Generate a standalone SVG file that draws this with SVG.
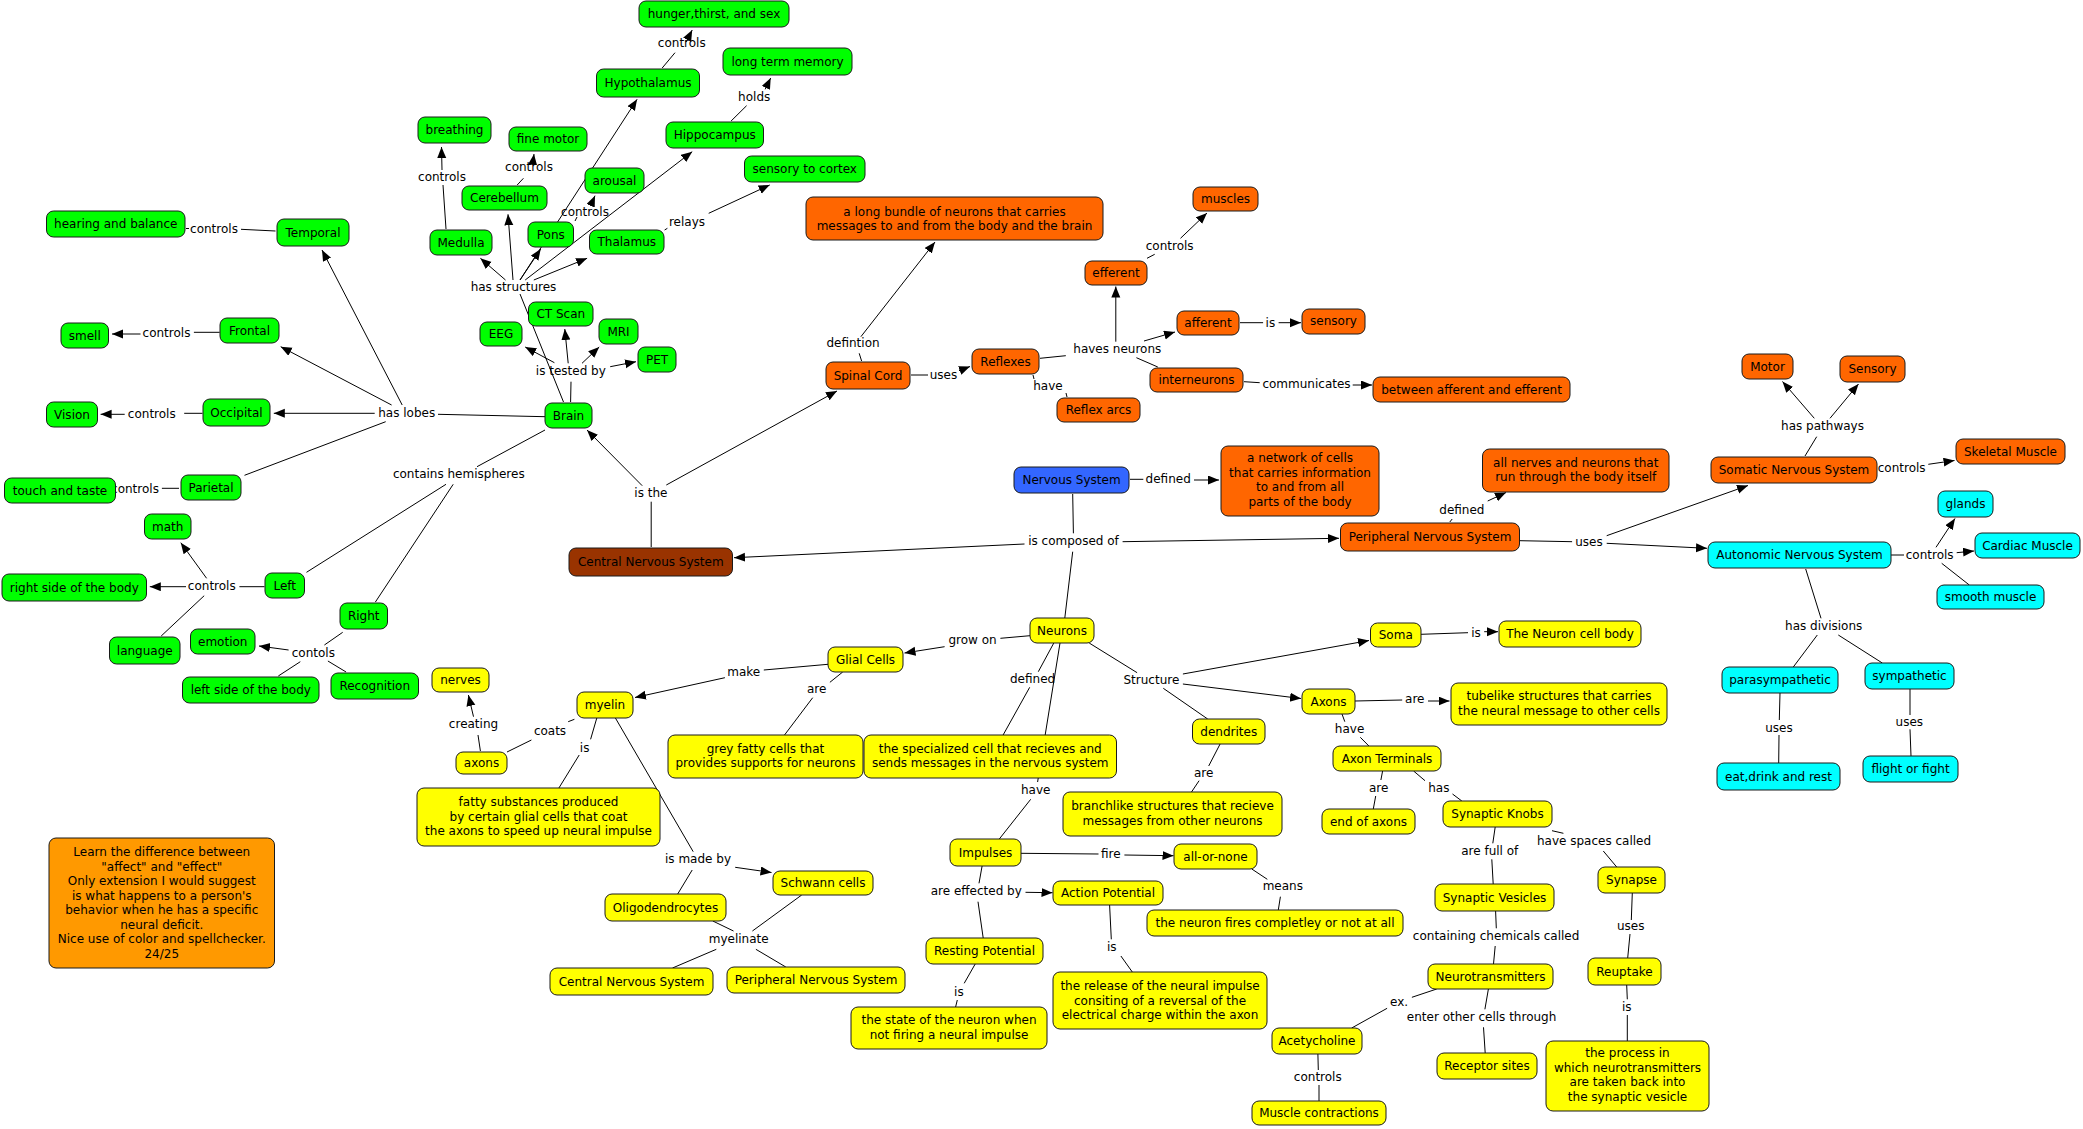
<svg xmlns="http://www.w3.org/2000/svg" width="2083" height="1129" viewBox="0 0 2083 1129">
<defs>
<marker id="ah" markerUnits="userSpaceOnUse" markerWidth="12" markerHeight="10" refX="11" refY="4.5" orient="auto"><path d="M0,0 L11,4.5 L0,9 z" fill="#000"/></marker>
<style>
text{font-family:"DejaVu Sans","Verdana",sans-serif;font-size:12px;fill:#000;text-anchor:middle}
rect{stroke:#1a1a1a;stroke-width:1;rx:7;ry:7}
.g{fill:#00ff00}.o{fill:#ff6600}.y{fill:#ffff00}.c{fill:#00ffff}.b{fill:#3366ff}.br{fill:#993300}.cm{fill:#ff9900}
#conn line{stroke:#000;stroke-width:1}
#conn line.a{marker-end:url(#ah)}
</style>
</defs>
<rect x="0" y="0" width="2083" height="1129" fill="#fff" style="stroke:none"/>
<g id="conn">
<line x1="275.5" y1="231" x2="241" y2="229.3"/><line x1="189" y1="228.5" x2="186" y2="228.5"/>
<line x1="219.7" y1="332.3" x2="193.9" y2="332.3"/><line class="a" x1="140.5" y1="334" x2="112" y2="334"/>
<line x1="545" y1="416.7" x2="438" y2="414.3"/>
<line class="a" x1="374.7" y1="413.3" x2="273.8" y2="413.3"/>
<line class="a" x1="391.6" y1="405" x2="280.7" y2="346.7"/>
<line class="a" x1="402.2" y1="405" x2="322" y2="250"/>
<line x1="385.7" y1="421.7" x2="244.5" y2="475.3"/>
<line x1="202.5" y1="413.3" x2="184.2" y2="413.3"/><line class="a" x1="124.7" y1="414.3" x2="100.6" y2="414.3"/>
<line x1="179" y1="488.3" x2="161.9" y2="488.3"/>
<line x1="545" y1="430" x2="477" y2="466.7"/>
<line x1="446" y1="484.3" x2="306.5" y2="572.3"/>
<line x1="453.2" y1="484.3" x2="375.4" y2="602"/>
<line x1="264.5" y1="586.7" x2="239.4" y2="586.7"/>
<line class="a" x1="186" y1="586.7" x2="149.8" y2="586.7"/>
<line class="a" x1="206.6" y1="578.3" x2="180.8" y2="542.7"/>
<line x1="204.2" y1="595.7" x2="161.2" y2="636"/>
<line x1="342.7" y1="632.3" x2="324.4" y2="645"/>
<line class="a" x1="288.6" y1="650" x2="259" y2="646"/>
<line x1="300.3" y1="661.7" x2="278.3" y2="676"/>
<line x1="327.9" y1="661" x2="346.1" y2="672"/>
<line x1="480.4" y1="751" x2="478" y2="735"/>
<line class="a" x1="473.5" y1="716.7" x2="468.4" y2="695"/>
<line x1="574.4" y1="719.3" x2="568.2" y2="721.7"/>
<line x1="531.4" y1="740" x2="507" y2="752"/>
<line x1="446" y1="229" x2="443" y2="185"/>
<line class="a" x1="442" y1="170" x2="441.5" y2="147"/>
<line x1="517.2" y1="185" x2="523.4" y2="178.3"/>
<line class="a" x1="533" y1="162" x2="534" y2="154"/>
<line class="a" x1="505.5" y1="280" x2="480.4" y2="258.3"/>
<line class="a" x1="513" y1="280" x2="508" y2="214.3"/>
<line class="a" x1="520" y1="280" x2="540.7" y2="249"/>
<line class="a" x1="520" y1="280" x2="637.1" y2="99.3"/>
<line class="a" x1="525.2" y1="280" x2="692.2" y2="151.7"/>
<line class="a" x1="533.8" y1="280" x2="587.1" y2="258.3"/>
<line x1="520" y1="294" x2="563.5" y2="402"/>
<line x1="662.2" y1="68" x2="675" y2="52.7"/>
<line class="a" x1="686" y1="42" x2="692.2" y2="30"/>
<line x1="731.1" y1="121" x2="746.6" y2="105.7"/>
<line class="a" x1="765.2" y1="89.3" x2="770.7" y2="78"/>
<line x1="575" y1="221" x2="577" y2="217"/>
<line class="a" x1="590.6" y1="205.7" x2="595" y2="195.7"/>
<line x1="664.6" y1="230" x2="667.4" y2="228.3"/>
<line class="a" x1="708.7" y1="213.3" x2="769.7" y2="185"/>
<line x1="570.6" y1="402" x2="571" y2="381.7"/>
<line class="a" x1="554.4" y1="362.7" x2="525.2" y2="347"/>
<line class="a" x1="568.2" y1="363.3" x2="564.8" y2="329"/>
<line class="a" x1="582" y1="363.3" x2="599.2" y2="347"/>
<line class="a" x1="610.2" y1="366.7" x2="636" y2="361.7"/>
<line x1="861.6" y1="361" x2="859.2" y2="353.3"/>
<line class="a" x1="860.9" y1="336.7" x2="935" y2="242"/>
<line x1="911" y1="375" x2="928" y2="375"/>
<line class="a" x1="959" y1="370.7" x2="970" y2="366.5"/>
<line x1="1033" y1="375" x2="1034" y2="379"/>
<line x1="1066" y1="393" x2="1067" y2="397"/>
<line x1="1040" y1="358.3" x2="1065.8" y2="355.7"/>
<line class="a" x1="1115.8" y1="341.7" x2="1115.8" y2="286.5"/>
<line class="a" x1="1144" y1="341" x2="1175" y2="332"/>
<line x1="1136.4" y1="357.7" x2="1157.8" y2="367"/>
<line x1="1147" y1="258.3" x2="1154.7" y2="254.3"/>
<line class="a" x1="1180.5" y1="238.3" x2="1207" y2="213"/>
<line x1="1240" y1="322.7" x2="1263.1" y2="322.7"/>
<line class="a" x1="1278.6" y1="322.7" x2="1301" y2="322.7"/>
<line x1="1244" y1="381.7" x2="1259.7" y2="382.7"/>
<line class="a" x1="1352.7" y1="385" x2="1372" y2="385"/>
<line x1="651.2" y1="547" x2="651.2" y2="501.7"/>
<line class="a" x1="642.2" y1="485.7" x2="587" y2="430"/>
<line class="a" x1="666.3" y1="485" x2="837" y2="391"/>
<line x1="1130" y1="479.3" x2="1143.3" y2="479.3"/>
<line class="a" x1="1194" y1="480" x2="1219" y2="480"/>
<line x1="1072.7" y1="494" x2="1073.4" y2="533.3"/>
<line class="a" x1="1024.5" y1="544" x2="734" y2="557.7"/>
<line class="a" x1="1122.6" y1="541.7" x2="1339" y2="538.3"/>
<line x1="1072.7" y1="551.7" x2="1064.8" y2="618"/>
<line x1="1449.8" y1="522" x2="1452.2" y2="519"/>
<line class="a" x1="1487.7" y1="501" x2="1506" y2="492.5"/>
<line x1="1520" y1="540.7" x2="1572.1" y2="541.7"/>
<line class="a" x1="1606.7" y1="535.7" x2="1748" y2="485.5"/>
<line class="a" x1="1606.7" y1="543.3" x2="1707" y2="548.3"/>
<line x1="1805" y1="456" x2="1816.7" y2="436.7"/>
<line class="a" x1="1814.3" y1="418.3" x2="1782.5" y2="381.5"/>
<line class="a" x1="1830" y1="418.3" x2="1858.5" y2="384"/>
<line class="a" x1="1928.3" y1="464.3" x2="1954.5" y2="460.5"/>
<line x1="1891" y1="555" x2="1904" y2="555"/>
<line class="a" x1="1956.7" y1="552.7" x2="1974" y2="551"/>
<line class="a" x1="1936" y1="547.3" x2="1955" y2="518.5"/>
<line x1="1941.7" y1="563.3" x2="1969.3" y2="585"/>
<line x1="1805.7" y1="569" x2="1821" y2="618.3"/>
<line x1="1817.3" y1="635" x2="1793.3" y2="667"/>
<line x1="1838.3" y1="635" x2="1882.3" y2="663"/>
<line x1="1780" y1="693" x2="1779.3" y2="720"/>
<line x1="1779" y1="735" x2="1778.7" y2="763"/>
<line x1="1910" y1="689" x2="1910" y2="715"/>
<line x1="1910" y1="729.3" x2="1911" y2="756"/>
<line x1="1030" y1="635.7" x2="1000.4" y2="638.3"/>
<line class="a" x1="944.6" y1="646.7" x2="904.5" y2="653"/>
<line x1="828" y1="664.3" x2="763.8" y2="670"/>
<line class="a" x1="724.9" y1="677.7" x2="635" y2="697.5"/>
<line x1="842.7" y1="672" x2="829.9" y2="682.3"/>
<line x1="812.7" y1="697.7" x2="784.5" y2="735"/>
<line x1="596.8" y1="718" x2="590.6" y2="739.3"/>
<line x1="579.2" y1="755" x2="558.9" y2="788"/>
<line x1="615.4" y1="718" x2="693.2" y2="851.7"/>
<line class="a" x1="735.2" y1="867.3" x2="771.5" y2="872.5"/>
<line x1="692.2" y1="870" x2="677.7" y2="894"/>
<line x1="712.8" y1="921" x2="733.5" y2="931"/>
<line x1="801.7" y1="895" x2="752.4" y2="931"/>
<line x1="716.3" y1="949.3" x2="672.5" y2="968"/>
<line x1="755.9" y1="949.3" x2="785.8" y2="967"/>
<line x1="1053.8" y1="643" x2="1038.3" y2="671.7"/>
<line x1="1029.7" y1="687.3" x2="1003.1" y2="735"/>
<line x1="1060" y1="643" x2="1037.6" y2="782"/>
<line x1="1030.7" y1="799.3" x2="999.3" y2="839"/>
<line x1="1089.2" y1="643" x2="1137.1" y2="672.7"/>
<line class="a" x1="1182.9" y1="674" x2="1369" y2="640.5"/>
<line class="a" x1="1182.9" y1="684" x2="1301" y2="698.5"/>
<line x1="1163.3" y1="688.3" x2="1207.7" y2="719"/>
<line x1="1421" y1="634.3" x2="1468" y2="632.7"/>
<line class="a" x1="1484.2" y1="631.7" x2="1498" y2="631.7"/>
<line x1="1355" y1="701" x2="1402.2" y2="700"/>
<line class="a" x1="1428" y1="701" x2="1449.5" y2="701"/>
<line x1="1342" y1="714" x2="1344.8" y2="721.7"/>
<line x1="1360.3" y1="737.3" x2="1368.9" y2="746"/>
<line x1="1220.1" y1="744" x2="1208.7" y2="766"/>
<line x1="1199.1" y1="780.7" x2="1191.5" y2="792"/>
<line x1="1382.6" y1="771" x2="1380.9" y2="780"/>
<line x1="1375.7" y1="796" x2="1373.3" y2="809"/>
<line x1="1413.6" y1="771" x2="1425" y2="780.7"/>
<line x1="1452.5" y1="794" x2="1461.8" y2="801"/>
<line x1="1552" y1="830.7" x2="1563.4" y2="833.3"/>
<line x1="1603.3" y1="851" x2="1616.7" y2="867"/>
<line x1="1632.3" y1="893" x2="1631.3" y2="920"/>
<line x1="1630" y1="934" x2="1627.7" y2="958"/>
<line x1="1626.7" y1="985" x2="1627.3" y2="999.3"/>
<line x1="1627.3" y1="1015" x2="1627.3" y2="1041"/>
<line x1="1495.2" y1="827" x2="1492.8" y2="843.3"/>
<line x1="1491.8" y1="859.3" x2="1493.2" y2="884"/>
<line x1="1495.6" y1="911" x2="1496.3" y2="928.3"/>
<line x1="1495.2" y1="946" x2="1493.5" y2="964"/>
<line x1="1436.7" y1="989" x2="1411.9" y2="997.3"/>
<line x1="1387.1" y1="1008.3" x2="1351.7" y2="1028"/>
<line x1="1488.4" y1="989" x2="1484.9" y2="1009.3"/>
<line x1="1483.5" y1="1027.3" x2="1485.2" y2="1053"/>
<line x1="1317.9" y1="1054" x2="1318.3" y2="1070"/>
<line x1="1319" y1="1085" x2="1319" y2="1101"/>
<line x1="1021" y1="853.3" x2="1098.5" y2="854"/>
<line class="a" x1="1124.4" y1="855" x2="1173.5" y2="855.7"/>
<line x1="982.1" y1="866" x2="979" y2="883.3"/>
<line class="a" x1="1025.5" y1="892.3" x2="1052.5" y2="892.7"/>
<line x1="978" y1="901.7" x2="983.2" y2="938"/>
<line x1="975.2" y1="964" x2="964.2" y2="983.3"/>
<line x1="957.3" y1="1000" x2="955.6" y2="1007"/>
<line x1="1251.8" y1="869" x2="1267.3" y2="879.3"/>
<line x1="1280.4" y1="896.7" x2="1278.3" y2="910"/>
<line x1="1109.6" y1="905" x2="1111.3" y2="939.3"/>
<line x1="1120.9" y1="956" x2="1132.3" y2="972"/>
<g id="labels">
<text x="214" y="232.5">controls</text>
<text x="442" y="181">controls</text>
<text x="529" y="171">controls</text>
<text x="513.5" y="291">has structures</text>
<text x="166.5" y="337">controls</text>
<text x="406.7" y="417">has lobes</text>
<text x="151.8" y="418">controls</text>
<text x="135" y="493">controls</text>
<text x="458.8" y="478">contains hemispheres</text>
<text x="211.8" y="590">controls</text>
<text x="313.3" y="657">contols</text>
<text x="473.5" y="728.3">creating</text>
<text x="550" y="734.7">coats</text>
<text x="681.8" y="47.3">controls</text>
<text x="754.2" y="100.7">holds</text>
<text x="585" y="215.7">controls</text>
<text x="687" y="225.7">relays</text>
<text x="570.8" y="374.7">is tested by</text>
<text x="853" y="347.3">defintion</text>
<text x="943.5" y="379">uses</text>
<text x="1048" y="389.5">have</text>
<text x="1169.7" y="250">controls</text>
<text x="1270.4" y="326.7">is</text>
<text x="1117.3" y="353">haves neurons</text>
<text x="1306.5" y="388">communicates</text>
<text x="1822.5" y="430">has pathways</text>
<text x="1901.7" y="472.3">controls</text>
<text x="1929.7" y="559">controls</text>
<text x="1589" y="545.7">uses</text>
<text x="1823.7" y="630">has divisions</text>
<text x="1779" y="731.7">uses</text>
<text x="1909.3" y="725.7">uses</text>
<text x="1168.2" y="483.3">defined</text>
<text x="1461.9" y="514">defined</text>
<text x="1073.5" y="545">is composed of</text>
<text x="650.9" y="496.7">is the</text>
<text x="1476" y="636.7">is</text>
<text x="1151.4" y="684">Structure</text>
<text x="1414.8" y="703.3">are</text>
<text x="1349.6" y="733">have</text>
<text x="1032.6" y="683">defined</text>
<text x="1035.7" y="794">have</text>
<text x="972.5" y="644">grow on</text>
<text x="743.7" y="675.7">make</text>
<text x="816.7" y="693.3">are</text>
<text x="584.6" y="751.7">is</text>
<text x="698" y="863">is made by</text>
<text x="738.7" y="943">myelinate</text>
<text x="1110.8" y="858">fire</text>
<text x="976.3" y="895">are effected by</text>
<text x="958.9" y="995.7">is</text>
<text x="1203.6" y="776.7">are</text>
<text x="1378.7" y="791.7">are</text>
<text x="1438.8" y="791.7">has</text>
<text x="1594" y="844.7">have spaces called</text>
<text x="1630.7" y="929.7">uses</text>
<text x="1626.7" y="1011.3">is</text>
<text x="1489.8" y="854.7">are full of</text>
<text x="1496.1" y="940">containing chemicals called</text>
<text x="1399" y="1005.7">ex.</text>
<text x="1481.6" y="1020.7">enter other cells through</text>
<text x="1317.8" y="1080.7">controls</text>
<text x="1282.8" y="889.7">means</text>
<text x="1111.8" y="951.3">is</text>
</g>
</g>
<g id="n-breathing"><rect class="g" x="418" y="117" width="73" height="26"/><text x="454.5" y="134">breathing</text></g>
<g id="n-finemotor"><rect class="g" x="509" y="127" width="78" height="24"/><text x="548" y="143">fine motor</text></g>
<g id="n-cerebellum"><rect class="g" x="462" y="186" width="85" height="24"/><text x="504.5" y="202">Cerebellum</text></g>
<g id="n-hearing"><rect class="g" x="46.5" y="211" width="138.5" height="26"/><text x="115.75" y="228">hearing and balance</text></g>
<g id="n-temporal"><rect class="g" x="277" y="219" width="72" height="27"/><text x="313" y="236.5">Temporal</text></g>
<g id="n-medulla"><rect class="g" x="430" y="230" width="62" height="25"/><text x="461" y="246.5">Medulla</text></g>
<g id="n-smell"><rect class="g" x="61" y="323" width="47.5" height="25"/><text x="84.75" y="339.5">smell</text></g>
<g id="n-frontal"><rect class="g" x="220" y="318" width="59" height="25"/><text x="249.5" y="334.5">Frontal</text></g>
<g id="n-eeg"><rect class="g" x="480" y="322" width="42" height="24"/><text x="501" y="338">EEG</text></g>
<g id="n-ctscan"><rect class="g" x="528.5" y="302" width="64.5" height="24"/><text x="560.75" y="318">CT Scan</text></g>
<g id="n-hunger"><rect class="g" x="639" y="1" width="150" height="26"/><text x="714" y="18">hunger,thirst, and sex</text></g>
<g id="n-hypothalamus"><rect class="g" x="596.5" y="69" width="103" height="28"/><text x="648" y="87">Hypothalamus</text></g>
<g id="n-ltm"><rect class="g" x="723" y="48" width="129" height="27"/><text x="787.5" y="65.5">long term memory</text></g>
<g id="n-hippocampus"><rect class="g" x="666" y="122" width="97.5" height="26"/><text x="714.75" y="139">Hippocampus</text></g>
<g id="n-arousal"><rect class="g" x="585" y="168" width="59" height="25"/><text x="614.5" y="184.5">arousal</text></g>
<g id="n-sensorycortex"><rect class="g" x="744.5" y="156" width="120.5" height="26"/><text x="804.75" y="173">sensory to cortex</text></g>
<g id="n-pons"><rect class="g" x="528" y="222" width="45.5" height="25"/><text x="550.75" y="238.5">Pons</text></g>
<g id="n-thalamus"><rect class="g" x="589.5" y="230" width="74.5" height="24"/><text x="626.75" y="246">Thalamus</text></g>
<g id="n-mri"><rect class="g" x="599" y="319" width="39" height="25"/><text x="618.5" y="335.5">MRI</text></g>
<g id="n-pet"><rect class="g" x="638" y="347" width="38" height="25"/><text x="657" y="363.5">PET</text></g>
<g id="n-brain"><rect class="g" x="545" y="403" width="47" height="25"/><text x="568.5" y="419.5">Brain</text></g>
<g id="n-vision"><rect class="g" x="46.5" y="402" width="51" height="25"/><text x="72" y="418.5">Vision</text></g>
<g id="n-occipital"><rect class="g" x="203" y="399" width="67" height="27"/><text x="236.5" y="416.5">Occipital</text></g>
<g id="n-touch"><rect class="g" x="4.5" y="478" width="111" height="25"/><text x="60" y="494.5">touch and taste</text></g>
<g id="n-parietal"><rect class="g" x="181" y="475" width="60" height="25"/><text x="211" y="491.5">Parietal</text></g>
<g id="n-math"><rect class="g" x="144.5" y="514" width="46.5" height="25"/><text x="167.75" y="530.5">math</text></g>
<g id="n-rightside"><rect class="g" x="2" y="574" width="144.5" height="27"/><text x="74.25" y="591.5">right side of the body</text></g>
<g id="n-left"><rect class="g" x="265" y="573" width="39.5" height="25"/><text x="284.75" y="589.5">Left</text></g>
<g id="n-right"><rect class="g" x="340" y="603" width="47.5" height="26"/><text x="363.75" y="620">Right</text></g>
<g id="n-language"><rect class="g" x="109.5" y="637" width="70.5" height="27"/><text x="144.75" y="654.5">language</text></g>
<g id="n-emotion"><rect class="g" x="190.5" y="629" width="64.5" height="25"/><text x="222.75" y="645.5">emotion</text></g>
<g id="n-leftside"><rect class="g" x="182.5" y="677" width="136.5" height="26"/><text x="250.75" y="694">left side of the body</text></g>
<g id="n-recognition"><rect class="g" x="331" y="673" width="87.5" height="26"/><text x="374.75" y="690">Recognition</text></g>
<g id="n-longbundle"><rect class="o" x="806" y="197" width="297" height="43"/><text x="954.5" y="215.5">a long bundle of neurons that carries</text><text x="954.5" y="230">messages to and from the body and the brain</text></g>
<g id="n-spinal"><rect class="o" x="826" y="362" width="84" height="27"/><text x="868" y="379.5">Spinal Cord</text></g>
<g id="n-reflexes"><rect class="o" x="972" y="349" width="67" height="25"/><text x="1005.5" y="365.5">Reflexes</text></g>
<g id="n-reflexarcs"><rect class="o" x="1057" y="398" width="83" height="24"/><text x="1098.5" y="414">Reflex arcs</text></g>
<g id="n-muscles"><rect class="o" x="1193" y="187" width="65" height="24"/><text x="1225.5" y="203">muscles</text></g>
<g id="n-efferent"><rect class="o" x="1085" y="261" width="62" height="24"/><text x="1116" y="277">efferent</text></g>
<g id="n-afferent"><rect class="o" x="1177" y="311" width="62" height="24"/><text x="1208" y="327">afferent</text></g>
<g id="n-sensory"><rect class="o" x="1302" y="309" width="63" height="25"/><text x="1333.5" y="324.5">sensory</text></g>
<g id="n-interneurons"><rect class="o" x="1150" y="368" width="93" height="24"/><text x="1196.5" y="384">interneurons</text></g>
<g id="n-between"><rect class="o" x="1373" y="377" width="197" height="25"/><text x="1471.5" y="393.5">between afferent and efferent</text></g>
<g id="n-network"><rect class="o" x="1221" y="446" width="158" height="70"/><text x="1300" y="462">a network of cells</text><text x="1300" y="476.7">that carries information</text><text x="1300" y="491.3">to and from all</text><text x="1300" y="506">parts of the body</text></g>
<g id="n-allnerves"><rect class="o" x="1482.5" y="449" width="186.5" height="43"/><text x="1575.75" y="466.7">all nerves and neurons that</text><text x="1575.75" y="481.3">run through the body itself</text></g>
<g id="n-pns"><rect class="o" x="1340.5" y="523" width="179" height="28"/><text x="1430" y="541">Peripheral Nervous System</text></g>
<g id="n-motor"><rect class="o" x="1742" y="354" width="51" height="25"/><text x="1767.5" y="370.5">Motor</text></g>
<g id="n-sensory2"><rect class="o" x="1840" y="356" width="65" height="26"/><text x="1872.5" y="373">Sensory</text></g>
<g id="n-somatic"><rect class="o" x="1711" y="457" width="166" height="26"/><text x="1794" y="474">Somatic Nervous System</text></g>
<g id="n-skeletal"><rect class="o" x="1956" y="439" width="109" height="25"/><text x="2010.5" y="455.5">Skeletal Muscle</text></g>
<g id="n-glands"><rect class="c" x="1938" y="491" width="55" height="26"/><text x="1965.5" y="508">glands</text></g>
<g id="n-cardiac"><rect class="c" x="1975" y="533" width="105" height="25"/><text x="2027.5" y="549.5">Cardiac Muscle</text></g>
<g id="n-autonomic"><rect class="c" x="1708" y="542" width="183" height="26"/><text x="1799.5" y="559">Autonomic Nervous System</text></g>
<g id="n-smooth"><rect class="c" x="1937" y="585" width="107" height="24"/><text x="1990.5" y="601">smooth muscle</text></g>
<g id="n-para"><rect class="c" x="1722" y="667" width="116" height="26"/><text x="1780" y="684">parasympathetic</text></g>
<g id="n-symp"><rect class="c" x="1865" y="663" width="89" height="26"/><text x="1909.5" y="680">sympathetic</text></g>
<g id="n-eat"><rect class="c" x="1717" y="763" width="123" height="27"/><text x="1778.5" y="780.5">eat,drink and rest</text></g>
<g id="n-flight"><rect class="c" x="1863" y="756" width="95" height="26"/><text x="1910.5" y="773">flight or fight</text></g>
<g id="n-ns"><rect class="b" x="1014" y="467" width="115" height="26"/><text x="1071.5" y="484">Nervous System</text></g>
<g id="n-cns"><rect class="br" x="569" y="548" width="163.5" height="28"/><text x="650.75" y="566">Central Nervous System</text></g>
<g id="n-neurons"><rect class="y" x="1030" y="618" width="64" height="25"/><text x="1062" y="634.5">Neurons</text></g>
<g id="n-glial"><rect class="y" x="828" y="647" width="75" height="25"/><text x="865.5" y="663.5">Glial Cells</text></g>
<g id="n-myelin"><rect class="y" x="577" y="692" width="56" height="26"/><text x="605" y="709">myelin</text></g>
<g id="n-nerves"><rect class="y" x="432" y="668" width="57" height="24"/><text x="460.5" y="684">nerves</text></g>
<g id="n-axons"><rect class="y" x="456" y="752" width="51" height="22"/><text x="481.5" y="767">axons</text></g>
<g id="n-fatty"><rect class="y" x="417" y="788" width="243" height="58"/><text x="538.5" y="806">fatty substances produced</text><text x="538.5" y="820.5">by certain glial cells that coat</text><text x="538.5" y="835">the axons to speed up neural impulse</text></g>
<g id="n-grey"><rect class="y" x="668" y="735" width="195" height="43"/><text x="765.5" y="753">grey fatty cells that</text><text x="765.5" y="767.3">provides supports for neurons</text></g>
<g id="n-specialized"><rect class="y" x="864" y="735" width="252.5" height="43"/><text x="990.25" y="753">the specialized cell that recieves and</text><text x="990.25" y="767.3">sends messages in the nervous system</text></g>
<g id="n-soma"><rect class="y" x="1370.5" y="623" width="50.5" height="24"/><text x="1395.75" y="639">Soma</text></g>
<g id="n-cellbody"><rect class="y" x="1499" y="621" width="142" height="26"/><text x="1570" y="638">The Neuron cell body</text></g>
<g id="n-axons2"><rect class="y" x="1302" y="689" width="53" height="25"/><text x="1328.5" y="705.5">Axons</text></g>
<g id="n-tubelike"><rect class="y" x="1451" y="683" width="216" height="42"/><text x="1559" y="699.7">tubelike structures that carries</text><text x="1559" y="714.7">the neural message to other cells</text></g>
<g id="n-dendrites"><rect class="y" x="1192.5" y="719" width="72.5" height="25"/><text x="1228.75" y="735.5">dendrites</text></g>
<g id="n-axonterm"><rect class="y" x="1333" y="746" width="108" height="25"/><text x="1387" y="762.5">Axon Terminals</text></g>
<g id="n-branchlike"><rect class="y" x="1063" y="792" width="219" height="44"/><text x="1172.5" y="809.7">branchlike structures that recieve</text><text x="1172.5" y="824.7">messages from other neurons</text></g>
<g id="n-endaxons"><rect class="y" x="1322" y="809" width="93" height="25"/><text x="1368.5" y="825.5">end of axons</text></g>
<g id="n-knobs"><rect class="y" x="1443" y="801" width="109" height="26"/><text x="1497.5" y="818">Synaptic Knobs</text></g>
<g id="n-synapse"><rect class="y" x="1598" y="867" width="67" height="26"/><text x="1631.5" y="884">Synapse</text></g>
<g id="n-reuptake"><rect class="y" x="1588" y="958" width="73" height="27"/><text x="1624.5" y="975.5">Reuptake</text></g>
<g id="n-process"><rect class="y" x="1546" y="1041" width="163" height="70"/><text x="1627.5" y="1057.3">the process in</text><text x="1627.5" y="1071.7">which neurotransmitters</text><text x="1627.5" y="1086.3">are taken back into</text><text x="1627.5" y="1100.7">the synaptic vesicle</text></g>
<g id="n-vesicles"><rect class="y" x="1435" y="884" width="119" height="27"/><text x="1494.5" y="901.5">Synaptic Vesicles</text></g>
<g id="n-nt"><rect class="y" x="1428" y="964" width="125" height="25"/><text x="1490.5" y="980.5">Neurotransmitters</text></g>
<g id="n-receptor"><rect class="y" x="1437" y="1053" width="100" height="26"/><text x="1487" y="1070">Receptor sites</text></g>
<g id="n-acety"><rect class="y" x="1272" y="1028" width="90" height="26"/><text x="1317" y="1045">Acetycholine</text></g>
<g id="n-musclecon"><rect class="y" x="1252" y="1101" width="134" height="24"/><text x="1319" y="1117">Muscle contractions</text></g>
<g id="n-impulses"><rect class="y" x="950" y="839" width="71" height="27"/><text x="985.5" y="856.5">Impulses</text></g>
<g id="n-allornone"><rect class="y" x="1174" y="844" width="83" height="25"/><text x="1215.5" y="860.5">all-or-none</text></g>
<g id="n-fires"><rect class="y" x="1147" y="910" width="256" height="26"/><text x="1275" y="927">the neuron fires completley or not at all</text></g>
<g id="n-ap"><rect class="y" x="1053" y="881" width="110" height="24"/><text x="1108" y="897">Action Potential</text></g>
<g id="n-release"><rect class="y" x="1053" y="972" width="214" height="57"/><text x="1160" y="989.7">the release of the neural impulse</text><text x="1160" y="1004.7">consiting of a reversal of the</text><text x="1160" y="1019.3">electrical charge within the axon</text></g>
<g id="n-rp"><rect class="y" x="926" y="938" width="117" height="26"/><text x="984.5" y="955">Resting Potential</text></g>
<g id="n-state"><rect class="y" x="851" y="1007" width="196" height="42"/><text x="949" y="1024">the state of the neuron when</text><text x="949" y="1038.7">not firing a neural impulse</text></g>
<g id="n-schwann"><rect class="y" x="773" y="871" width="100" height="24"/><text x="823" y="887">Schwann cells</text></g>
<g id="n-oligo"><rect class="y" x="605" y="894" width="121" height="27"/><text x="665.5" y="911.5">Oligodendrocytes</text></g>
<g id="n-cnsy"><rect class="y" x="550" y="968" width="163" height="27"/><text x="631.5" y="985.5">Central Nervous System</text></g>
<g id="n-pnsy"><rect class="y" x="727" y="967" width="178" height="26"/><text x="816" y="984">Peripheral Nervous System</text></g>
<g id="n-comment"><rect class="cm" x="49" y="838" width="225.5" height="130"/><text x="161.75" y="856">Learn the difference between</text><text x="161.75" y="870.7">"affect" and "effect"</text><text x="161.75" y="885.3">Only extension I would suggest</text><text x="161.75" y="899.7">is what happens to a person's</text><text x="161.75" y="914.3">behavior when he has a specific</text><text x="161.75" y="928.7">neural deficit.</text><text x="161.75" y="943.3">Nice use of color and spellchecker.</text><text x="161.75" y="958">24/25</text></g>
</svg>
